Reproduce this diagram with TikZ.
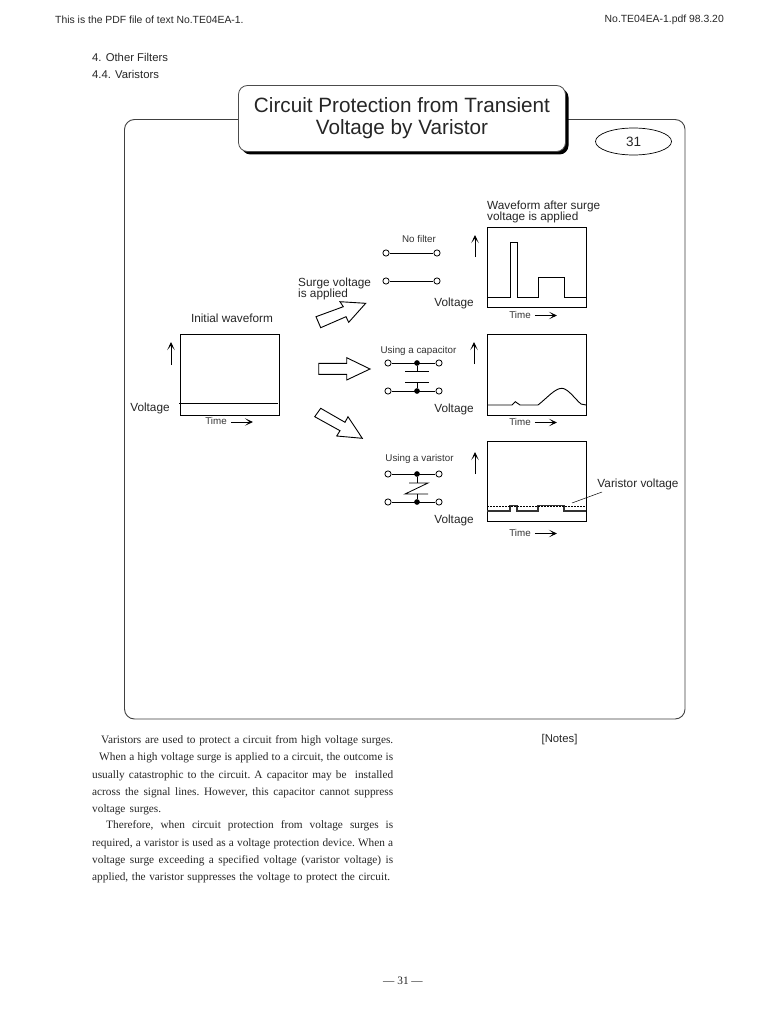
\documentclass[tikz,border=0pt]{standalone}
\usepackage{fontspec}
\setmainfont{Liberation Sans}
\newfontfamily\bodyfont{Liberation Serif}
\usetikzlibrary{arrows.meta,calc,positioning,shadows,shapes.geometric}
\tikzset{
  sheet/.style    = {draw=black!75, line width=0.9pt, rounded corners=10pt},
  titlebox/.style = {draw=black!70, line width=0.8pt, fill=white, rounded corners=9pt,
                     minimum width=327pt, minimum height=66pt, align=center,
                     font=\fontsize{20.7}{23}\selectfont, text=black!85,
                     drop shadow={shadow xshift=3pt, shadow yshift=-3pt, fill=black, opacity=1}},
  numoval/.style  = {draw, ellipse, line width=0.7pt, minimum width=76pt, minimum height=27pt,
                     font=\fontsize{13.5}{15}\selectfont, text=black!85},
  wavebox/.style  = {draw, line width=0.9pt, minimum width=99pt, inner sep=0pt},
  wave/.style     = {line width=0.9pt},
  wire/.style     = {line width=0.8pt},
  term/.style     = {circle, draw, line width=0.8pt, fill=white, inner sep=2.2pt},
  dot/.style      = {circle, fill=black, inner sep=2pt},
  vec/.style      = {-{Stealth[length=8pt, width=7.5pt, inset=4.5pt]}, line width=0.8pt},
  surge/.style    = {draw, line width=0.9pt, fill=white},
  small/.style    = {font=\fontsize{9.8}{11}\selectfont, text=black!80, inner sep=0pt},
  head/.style     = {font=\fontsize{10.4}{12}\selectfont, text=black!85, inner sep=0pt},
  big/.style      = {font=\fontsize{11.8}{11}\selectfont, text=black!85, inner sep=0pt, align=left},
  body/.style     = {font=\bodyfont\frenchspacing\fontsize{11.3}{12}\selectfont, text=black!85,
                     inner sep=0pt, anchor=base west},
}
\begin{document}
\begin{tikzpicture}[x=1pt,y=-1pt]
  \path[use as bounding box, fill=white] (0,0) rectangle (768,1024);

  % page head
  \node[head, anchor=west] (headl) at (55,19.5) {This is the PDF file of text No.TE04EA-1.};
  \node[head, anchor=east] (headr) at (724,19.5) {No.TE04EA-1.pdf 98.3.20};
  \node[head, anchor=west, font=\fontsize{11.3}{12}\selectfont] (sec) at (92,57.5) {4. Other Filters};
  \node[head, anchor=west, font=\fontsize{11.3}{12}\selectfont] (subsec) at (92,74.5) {4.4. Varistors};

  \draw[sheet] (124.5,119.5) rectangle (685,719);
  \node[titlebox] (title) at (402,118.5) {Circuit Protection from Transient\\[-0.8pt]Voltage by Varistor};
  \node[numoval] (num) at (633.5,141.5) {31};

  % initial waveform
  \node[big] (init) at (232,318) {Initial waveform};
  \node[wavebox, minimum height=81pt] (box0) at (229.5,374.5) {};
  \draw[wave] (179,403) -- (278,403);
  \node[big] (volt0) at (150,408) {Voltage};
  \coordinate (up0a) at (171,365);
  \coordinate (up0b) at (171,342);
  \draw[vec] (up0a) -- (up0b);
  \node[small] (time0) at (216,421) {Time};
  \draw[vec] ($(time0.east)+(4,1)$) -- ++(22,0);

  % surge arrows
  \node[big] (surge) at (298,288.5) [anchor=west] {Surge voltage\\is applied};
  \draw[surge] (316,316.7) -- (343.3,306.7) -- (340,301.7) -- (365.7,303.3) -- (348.7,322.3)
    -- (346,316.7) -- (320.7,327.7) -- cycle;
  \draw[surge] (318.7,363.3) -- (346.7,363.3) -- (346.7,357.7) -- (370,369) -- (346.7,380)
    -- (346.7,374.3) -- (318.7,374.3) -- cycle;
  \draw[surge] (314.7,416.7) -- (320.7,408.3) -- (345,422.3) -- (348,416.7) -- (362.3,438.3)
    -- (336.7,436) -- (340,430.7) -- cycle;

  % no filter
  \node[small] (nofilter) at (419,239) {No filter};
  \node[term] (ta1) at (386,253) {};
  \node[term] (tb1) at (437,253) {};
  \node[term] (tc1) at (386,281) {};
  \node[term] (td1) at (437,281) {};
  \draw[wire] (ta1) -- (tb1);
  \draw[wire] (tc1) -- (td1);

  \node[big, anchor=west] (after) at (487,211.5) {Waveform after surge\\voltage is applied};
  \node[wavebox, minimum height=80pt] (box1) at (536.5,267) {};
  \draw[wave] (487,297) -- (510,297) -- (510,242) -- (517,242) -- (517,297) -- (538,297)
    -- (538,277) -- (564,277) -- (564,297) -- (586,297);
  \node[big] (volt1) at (454,303) {Voltage};
  \coordinate (up1a) at (475,257);
  \coordinate (up1b) at (475,235);
  \draw[vec] (up1a) -- (up1b);
  \node[small] (time1) at (520,314.5) {Time};
  \draw[vec] ($(time1.east)+(4,1)$) -- ++(22,0);

  % capacitor
  \node[small] (usecap) at (418.5,350.5) {Using a capacitor};
  \node[term] (ta2) at (388,363) {};
  \node[term] (tb2) at (439,363) {};
  \node[term] (tc2) at (388,391) {};
  \node[term] (td2) at (439,391) {};
  \node[dot] (da2) at (417,363) {};
  \node[dot] (db2) at (417,391) {};
  \coordinate (pa2) at (417,371);
  \coordinate (pb2) at (417,382);
  \draw[wire] (ta2) -- (tb2);
  \draw[wire] (tc2) -- (td2);
  \draw[wire] (da2) -- (pa2);
  \draw[wire] (db2) -- (pb2);
  \draw[wire] ($(pa2)+(-12,0)$) -- ($(pa2)+(12,0)$);
  \draw[wire] ($(pb2)+(-12,0)$) -- ($(pb2)+(12,0)$);

  \node[wavebox, minimum height=81pt] (box2) at (536.5,374.5) {};
  \draw[wave] (487,405) -- (512,405) -- (515.3,401.7) -- (520,405) -- (538,405)
    .. controls (547,398) and (555,388.3) .. (561.7,388.3)
    .. controls (568,388.3) and (575,399) .. (581,404) -- (586,405);
  \node[big] (volt2) at (454,409) {Voltage};
  \coordinate (up2a) at (474,364);
  \coordinate (up2b) at (474,342);
  \draw[vec] (up2a) -- (up2b);
  \node[small] (time2) at (520,421.5) {Time};
  \draw[vec] ($(time2.east)+(4,1)$) -- ++(22,0);

  % varistor
  \node[small] (usevar) at (419.5,458.5) {Using a varistor};
  \node[term] (ta3) at (388,474) {};
  \node[term] (tb3) at (439,474) {};
  \node[term] (tc3) at (388,502) {};
  \node[term] (td3) at (439,502) {};
  \node[dot] (da3) at (417,474) {};
  \node[dot] (db3) at (417,502) {};
  \coordinate (pa3) at (417,483);
  \coordinate (pb3) at (417,494);
  \draw[wire] (ta3) -- (tb3);
  \draw[wire] (tc3) -- (td3);
  \draw[wire] (da3) -- (pa3);
  \draw[wire] (db3) -- (pb3);
  \draw[wire] ($(pa3)+(-8,0)$) -- ($(pa3)+(11,0)$) -- ($(pb3)+(-12,0)$) -- ($(pb3)+(11,0)$);

  \node[wavebox, minimum height=80pt] (box3) at (536.5,481) {};
  \draw[wave, line width=1.1pt, black!80] (487,511) -- (510,511) -- (510,505.5) -- (517,505.5) -- (517,511)
    -- (538,511) -- (538,505.5) -- (564,505.5) -- (564,511) -- (586,511);
  \draw[wire, dash pattern=on 1.5pt off 1.5pt] (487,506) -- (586,506);
  \node[big] (volt3) at (454,520) {Voltage};
  \coordinate (up3a) at (475,474);
  \coordinate (up3b) at (475,452);
  \draw[vec] (up3a) -- (up3b);
  \node[small] (time3) at (520,532.5) {Time};
  \draw[vec] ($(time3.east)+(4,1)$) -- ++(22,0);
  \node[big] (varv) at (638,484) {Varistor voltage};
  \coordinate (varvend) at (572,503);
  \draw[line width=0.5pt] (602,492) -- (varvend);

  % text under the sheet
  \foreach \i/\lx/\ly/\lw/\txt in {
    1/101/743.5/292/{Varistors are used to protect a circuit from high voltage surges.},
    2/99/760.5/294/{When a high voltage surge is applied to a circuit, the outcome is},
    3/92/778.5/301/{usually catastrophic to the circuit. A capacitor may be \ installed},
    4/92/795.5/301/{across the signal lines. However, this capacitor cannot suppress},
    5/92/812.5/69/{voltage surges.},
    6/106/828.5/287/{Therefore, when circuit protection from voltage surges is},
    7/92/846/301/{required, a varistor is used as a voltage protection device. When a},
    8/92/863.5/301/{voltage surge exceeding a specified voltage (varistor voltage) is},
    9/92/880.5/298/{applied, the varistor suppresses the voltage to protect the circuit.}}
    \node[body] (line\i) at (\lx,\ly) {\makebox[\lw pt][s]{\txt}};
  \node[head, font=\fontsize{11.3}{12}\selectfont] (notes) at (559.5,740) {[Notes]};
  \node[body, anchor=center] (page) at (403,981) {— 31 —};
\end{tikzpicture}
\end{document}
